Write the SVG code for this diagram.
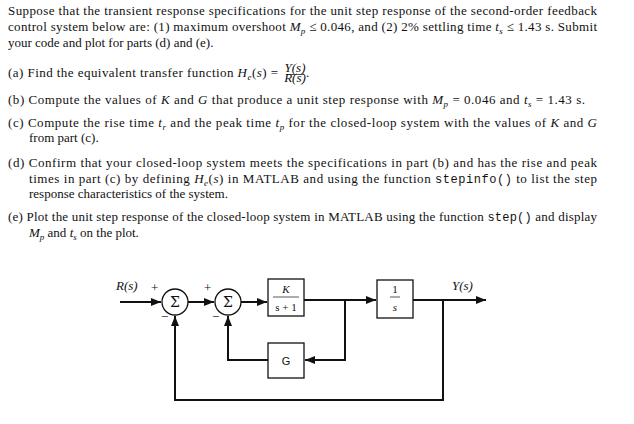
<svg xmlns="http://www.w3.org/2000/svg" width="634" height="424" viewBox="0 0 634 424">
<style>
text{font-family:"Liberation Serif","Times New Roman",serif;font-size:13px;fill:#111}
.i{font-style:italic}
.m{font-family:"Liberation Mono",monospace;font-size:12px}
.b{fill:#fff;stroke:#111;stroke-width:1.3}
.w{fill:none;stroke:#111;stroke-width:2}
.s{font-family:"Liberation Serif",serif;font-size:11px}
.g{font-family:"DejaVu Serif",serif;font-size:14px}
</style>
<defs><marker id="a" viewBox="0 0 10 10" refX="10" refY="5" markerWidth="5" markerHeight="5" orient="auto"><path d="M0,1 L10,5 L0,9 Z" fill="#111"/></marker></defs>
<rect width="634" height="424" fill="#fff"/>
<g id="text">
<text x="8" y="15" textLength="589" lengthAdjust="spacing">Suppose that the transient response specifications for the unit step response of the second-order feedback</text>
<text x="8" y="31" textLength="589" lengthAdjust="spacing">control system below are: (1) maximum overshoot <tspan class="i">M<tspan font-size="9" dy="3">p</tspan></tspan><tspan dy="-3"> ≤ 0.046, and (2) 2% settling time </tspan><tspan class="i">t<tspan font-size="9" dy="3">s</tspan></tspan><tspan dy="-3"> ≤ 1.43 s. Submit</tspan></text>
<text x="8" y="47">your code and plot for parts (d) and (e).</text>
<text x="8" y="77" textLength="270" lengthAdjust="spacing">(a) Find the equivalent transfer function <tspan class="i">H<tspan font-size="9" dy="3">e</tspan></tspan><tspan dy="-3">(</tspan><tspan class="i">s</tspan>) =</text>
<text x="295" y="72" font-size="8" class="i" text-anchor="middle">Y(s)</text>
<line x1="286" y1="74.5" x2="304" y2="74.5" stroke="#111" stroke-width="0.7"/>
<text x="295" y="82" font-size="8" class="i" text-anchor="middle">R(s)</text>
<text x="306" y="77">.</text>
<text x="8" y="104" textLength="577" lengthAdjust="spacing">(b) Compute the values of <tspan class="i">K</tspan> and <tspan class="i">G</tspan> that produce a unit step response with <tspan class="i">M<tspan font-size="9" dy="3">p</tspan></tspan><tspan dy="-3"> = 0.046 and </tspan><tspan class="i">t<tspan font-size="9" dy="3">s</tspan></tspan><tspan dy="-3"> = 1.43 s.</tspan></text>
<text x="8" y="127" textLength="589" lengthAdjust="spacing">(c) Compute the rise time <tspan class="i">t<tspan font-size="9" dy="3">r</tspan></tspan><tspan dy="-3"> and the peak time </tspan><tspan class="i">t<tspan font-size="9" dy="3">p</tspan></tspan><tspan dy="-3"> for the closed-loop system with the values of </tspan><tspan class="i">K</tspan> and <tspan class="i">G</tspan></text>
<text x="29" y="142">from part (c).</text>
<text x="8" y="167" textLength="589" lengthAdjust="spacing">(d) Confirm that your closed-loop system meets the specifications in part (b) and has the rise and peak</text>
<text x="29" y="183" textLength="568" lengthAdjust="spacing">times in part (c) by defining <tspan class="i">H<tspan font-size="9" dy="3">e</tspan></tspan><tspan dy="-3">(</tspan><tspan class="i">s</tspan>) in MATLAB and using the function <tspan class="m">stepinfo()</tspan> to list the step</text>
<text x="29" y="198">response characteristics of the system.</text>
<text x="8" y="221" textLength="589" lengthAdjust="spacing">(e) Plot the unit step response of the closed-loop system in MATLAB using the function <tspan class="m">step()</tspan> and display</text>
<text x="29" y="237"><tspan class="i">M<tspan font-size="9" dy="3">p</tspan></tspan><tspan dy="-3"> and </tspan><tspan class="i">t<tspan font-size="9" dy="3">s</tspan></tspan><tspan dy="-3"> on the plot.</tspan></text>
</g>
<g id="connectors">
<line class="w" x1="120" y1="302" x2="161" y2="302" marker-end="url(#a)"/>
<line class="w" x1="188" y1="302" x2="214" y2="302" marker-end="url(#a)"/>
<line class="w" x1="241" y1="302" x2="267" y2="302" marker-end="url(#a)"/>
<line class="w" x1="304" y1="300" x2="376" y2="300" marker-end="url(#a)"/>
<line class="w" x1="413" y1="300" x2="486" y2="300" marker-end="url(#a)"/>
<polyline class="w" points="345,300 345,360 305,360" marker-end="url(#a)"/>
<polyline class="w" points="268,360 228,360 228,316" marker-end="url(#a)"/>
<polyline class="w" points="443,300 443,400 175,400 175,316" marker-end="url(#a)"/>
</g>
<g id="sum1"><circle class="b" cx="175" cy="302" r="13"/><text x="175" y="307" text-anchor="middle" class="g">Σ</text>
<text x="151" y="292" font-size="13">+</text><text x="161" y="321" font-size="13">−</text></g>
<g id="sum2"><circle class="b" cx="228" cy="302" r="13"/><text x="228" y="307" text-anchor="middle" class="g">Σ</text>
<text x="204" y="292" font-size="13">+</text><text x="212" y="321" font-size="13">−</text></g>
<g id="labels"><text x="116" y="290" class="i" font-size="14">R(s)</text><text x="452" y="290" class="i" font-size="14">Y(s)</text></g>
<g id="K"><rect class="b" x="268" y="279" width="36" height="37"/><text x="286" y="293" text-anchor="middle" class="s i">K</text><line x1="273" y1="297" x2="299" y2="297" stroke="#111" stroke-width="0.7"/><text x="286" y="311" text-anchor="middle" class="s">s + 1</text></g>
<g id="integ"><rect class="b" x="377" y="280" width="36" height="38"/><text x="395" y="293" text-anchor="middle" class="s">1</text><line x1="390" y1="297" x2="400" y2="297" stroke="#111" stroke-width="0.7"/><text x="395" y="311" text-anchor="middle" class="s i">s</text></g>
<g id="G"><rect class="b" x="268" y="343" width="36" height="35"/><text x="286" y="365" text-anchor="middle" style="font-family:'Liberation Sans',sans-serif;font-size:11px">G</text></g>
</svg>
